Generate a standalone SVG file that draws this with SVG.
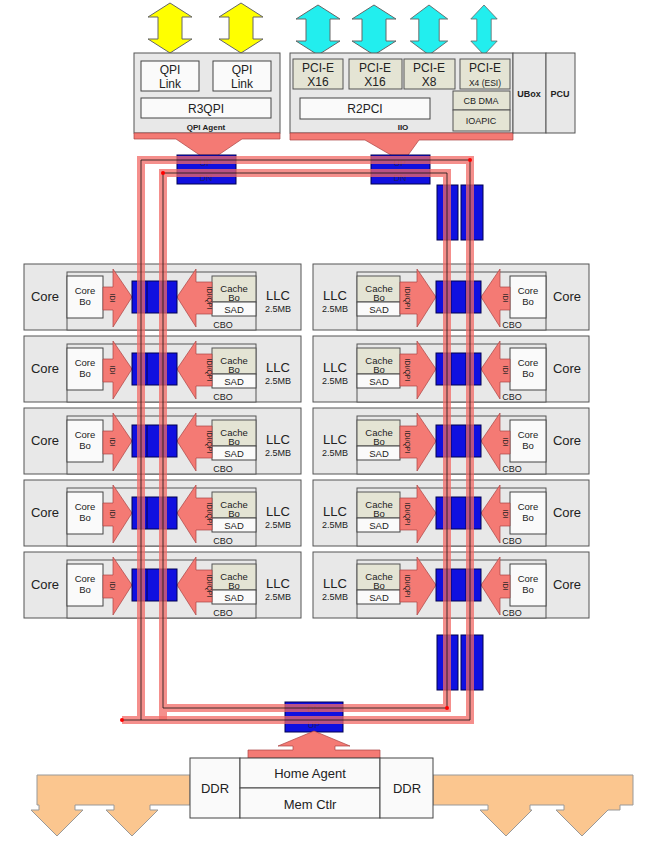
<svg xmlns="http://www.w3.org/2000/svg" width="669" height="842" viewBox="0 0 669 842">
<style>
text{font-family:"Liberation Sans",Arial,sans-serif;fill:#222}
.box{fill:#e8e8e8;stroke:#555;stroke-width:1}
.wb{fill:#fafafa;stroke:#444;stroke-width:1}
.gb{fill:#e4e4d4;stroke:#555;stroke-width:1}
.pk{fill:#f47a74;stroke:#a44;stroke-width:0.7}
.blu{fill:#1010e0;stroke:#000050;stroke-width:1}
.ring{fill:none;stroke:#f26a66;stroke-opacity:0.75;stroke-width:8}
.rl{fill:none;stroke:#111;stroke-width:0.8}
.ye{fill:#ffff00;stroke:#666;stroke-width:1}
.cy{fill:#22eeee;stroke:#666;stroke-width:1}
.or{fill:#fbc68f;stroke:#999;stroke-width:1}
</style>
<defs>
<path id="dbl" d="M0,-25 L22,-11 L12,-11 L12,11 L22,11 L0,25 L-22,11 L-12,11 L-12,-11 L-22,-11 Z"/>
<g id="rowL">
<rect class="box" x="24" y="264" width="277" height="66"/>
<rect class="box" x="67" y="272" width="189" height="58"/>
<rect class="wb" x="67" y="276" width="36" height="42"/>
<rect class="gb" x="212" y="276" width="44" height="26"/>
<rect class="wb" x="212" y="302" width="44" height="14"/>
<text x="45" y="301" font-size="13" text-anchor="middle">Core</text>
<text x="85" y="294" font-size="9.5" text-anchor="middle">Core</text>
<text x="85" y="305" font-size="9.5" text-anchor="middle">Bo</text>
<text x="234" y="292" font-size="9.5" text-anchor="middle">Cache</text>
<text x="234" y="301" font-size="9.5" text-anchor="middle">Bo</text>
<text x="234" y="313" font-size="9.5" text-anchor="middle">SAD</text>
<text x="278" y="300" font-size="13" text-anchor="middle">LLC</text>
<text x="278" y="312" font-size="9" text-anchor="middle">2.5MB</text>
<text x="223" y="328" font-size="9" text-anchor="middle">CBO</text>
<path class="pk" d="M103,287 H113 V269 L132,297 L113,327 V310 H103 Z"/>
<path class="pk" d="M212,282 H196 V269 L177,297 L196,327 V314 H212 Z"/>
<text transform="translate(110,298) rotate(90)" font-size="7" text-anchor="middle">IDI</text>
<text transform="translate(207,298) rotate(90)" font-size="7" text-anchor="middle">IDI/QPI</text>
<rect class="blu" x="132" y="281" width="45" height="32"/>
<line x1="147" y1="281" x2="147" y2="313" stroke="#000050"/>
<line x1="162" y1="281" x2="162" y2="313" stroke="#000050"/>
</g>
<g id="rowR">
<rect class="box" x="313" y="264" width="276" height="66"/>
<rect class="box" x="357" y="272" width="189" height="58"/>
<rect class="gb" x="357" y="276" width="43" height="26"/>
<rect class="wb" x="357" y="302" width="43" height="14"/>
<rect class="wb" x="510" y="276" width="36" height="42"/>
<text x="335" y="300" font-size="13" text-anchor="middle">LLC</text>
<text x="335" y="312" font-size="9" text-anchor="middle">2.5MB</text>
<text x="379" y="292" font-size="9.5" text-anchor="middle">Cache</text>
<text x="379" y="301" font-size="9.5" text-anchor="middle">Bo</text>
<text x="379" y="313" font-size="9.5" text-anchor="middle">SAD</text>
<text x="528" y="294" font-size="9.5" text-anchor="middle">Core</text>
<text x="528" y="305" font-size="9.5" text-anchor="middle">Bo</text>
<text x="567" y="301" font-size="13" text-anchor="middle">Core</text>
<text x="512" y="328" font-size="9" text-anchor="middle">CBO</text>
<path class="pk" d="M400,282 H417 V269 L436,297 L417,327 V314 H400 Z"/>
<path class="pk" d="M510,287 H500 V269 L481,297 L500,327 V310 H510 Z"/>
<text transform="translate(405,298) rotate(90)" font-size="7" text-anchor="middle">IDI/QPI</text>
<text transform="translate(503,298) rotate(90)" font-size="7" text-anchor="middle">IDI</text>
<rect class="blu" x="436" y="281" width="45" height="32"/>
<line x1="451" y1="281" x2="451" y2="313" stroke="#000050"/>
<line x1="466" y1="281" x2="466" y2="313" stroke="#000050"/>
</g>
</defs>

<g id="qpi-arrows">
<use href="#dbl" class="ye" transform="translate(170,28)"/>
<use href="#dbl" class="ye" transform="translate(241,28)"/>
</g>
<g id="pcie-arrows">
<use href="#dbl" class="cy" transform="translate(318,30)"/>
<use href="#dbl" class="cy" transform="translate(374,30)"/>
<use href="#dbl" class="cy" transform="translate(429,30) scale(0.85,1)"/>
<use href="#dbl" class="cy" transform="translate(484,30) scale(0.6,1)"/>
</g>

<g id="qpi-agent">
<rect class="box" x="134" y="53" width="146" height="80"/>
<rect class="wb" x="141" y="61" width="58" height="30"/>
<rect class="wb" x="213" y="61" width="58" height="30"/>
<rect class="wb" x="141" y="98" width="130" height="20"/>
<text x="170" y="74" font-size="12" text-anchor="middle">QPI</text>
<text x="170" y="88" font-size="12" text-anchor="middle">Link</text>
<text x="242" y="74" font-size="12" text-anchor="middle">QPI</text>
<text x="242" y="88" font-size="12" text-anchor="middle">Link</text>
<text x="206" y="113" font-size="12" text-anchor="middle">R3QPI</text>
<text x="206" y="130" font-size="8" font-weight="bold" text-anchor="middle">QPI Agent</text>
<path class="pk" d="M134,133 H280 V139 H242 L214,158 H204 L176,139 H134 Z"/>
</g>

<g id="iio">
<rect class="box" x="290" y="53" width="223" height="80"/>
<rect class="gb" x="293" y="59" width="50" height="30"/>
<rect class="gb" x="349" y="59" width="53" height="30"/>
<rect class="gb" x="404" y="59" width="51" height="30"/>
<rect class="gb" x="460" y="59" width="50" height="30"/>
<text x="318" y="72" font-size="12" text-anchor="middle">PCI-E</text>
<text x="318" y="86" font-size="12" text-anchor="middle">X16</text>
<text x="375" y="72" font-size="12" text-anchor="middle">PCI-E</text>
<text x="375" y="86" font-size="12" text-anchor="middle">X16</text>
<text x="429" y="72" font-size="12" text-anchor="middle">PCI-E</text>
<text x="429" y="86" font-size="12" text-anchor="middle">X8</text>
<text x="485" y="72" font-size="12" text-anchor="middle">PCI-E</text>
<text x="485" y="86" font-size="8.5" text-anchor="middle">X4 (ESI)</text>
<rect class="wb" x="300" y="98" width="130" height="21"/>
<text x="365" y="113" font-size="12" text-anchor="middle">R2PCI</text>
<rect class="gb" x="453" y="91" width="57" height="19"/>
<rect class="gb" x="453" y="110" width="57" height="21"/>
<text x="481" y="104" font-size="9" text-anchor="middle">CB DMA</text>
<text x="481" y="124" font-size="9" text-anchor="middle">IOAPIC</text>
<text x="403" y="130" font-size="8" font-weight="bold" text-anchor="middle">IIO</text>
<path class="pk" d="M290,133 H513 V140 H419 L406,158 H396 L365,140 H290 Z"/>
</g>
<g id="ubox"><rect class="box" x="513" y="53" width="33" height="80"/><text x="529" y="97" font-size="9" font-weight="bold" text-anchor="middle">UBox</text></g>
<g id="pcu"><rect class="box" x="546" y="53" width="29" height="80"/><text x="560" y="97" font-size="9" font-weight="bold" text-anchor="middle">PCU</text></g>

<g id="rows">
<use href="#rowL"/><use href="#rowR"/>
<use href="#rowL" y="72"/><use href="#rowR" y="72"/>
<use href="#rowL" y="144"/><use href="#rowR" y="144"/>
<use href="#rowL" y="216"/><use href="#rowR" y="216"/>
<use href="#rowL" y="288"/><use href="#rowR" y="288"/>
</g>

<g id="ring-stops">
<rect class="blu" x="177" y="155" width="59" height="29"/>
<rect class="blu" x="371" y="155" width="59" height="29"/>
<rect class="blu" x="437" y="185" width="21" height="55"/>
<rect class="blu" x="461" y="185" width="22" height="55"/>
<rect class="blu" x="437" y="635" width="21" height="55"/>
<rect class="blu" x="461" y="635" width="22" height="55"/>
<rect class="blu" x="285" y="702" width="58" height="30"/>
<g font-size="9" fill="#3a0050" text-anchor="middle" opacity="0.6">
<text x="206" y="166">UP</text><text x="206" y="181">DN</text>
<text x="400" y="166">UP</text><text x="400" y="181">DN</text>
<text x="314" y="712">DN</text><text x="314" y="728">UP</text>
</g>
</g>

<g id="connectors">
<path class="ring" d="M122,720 H470 V160 H141 V720"/>
<path class="ring" d="M163,720 V173 H447 V708 H163"/>
<path class="rl" d="M122,720 H470 V160 H141 V720"/>
<path class="rl" d="M163,708 V173 H447 V708 H163"/>
<circle cx="122" cy="720" r="2" fill="red"/>
<circle cx="470" cy="160" r="2" fill="red"/>
<circle cx="163" cy="173" r="2" fill="red"/>
<circle cx="447" cy="708" r="2" fill="red"/>
</g>

<g id="memory">
<path class="or" d="M37,775 H190 V805 H150 L150,810 H158 L132,836 L106,810 H114 V805 H75 V810 H83 L57,836 L31,810 H39 V805 H37 Z"/>
<path class="or" d="M433,775 H633 V805 H620 V810 H608 L582,836 L556,810 H564 V805 H530 V810 H532 L506,836 L480,810 H488 V805 H433 Z"/>
<path class="pk" d="M248,758 V750 H293 L293,746 H278 L314,731 L350,746 H335 V750 H380 V758 Z"/>
<rect class="wb" x="190" y="758" width="50" height="60"/>
<rect class="wb" x="240" y="758" width="140" height="30"/>
<rect class="wb" x="240" y="788" width="140" height="30"/>
<rect class="wb" x="380" y="758" width="53" height="60"/>
<text x="215" y="793" font-size="13" text-anchor="middle">DDR</text>
<text x="407" y="793" font-size="13" text-anchor="middle">DDR</text>
<text x="310" y="778" font-size="13" text-anchor="middle">Home Agent</text>
<text x="310" y="809" font-size="13" text-anchor="middle">Mem Ctlr</text>
</g>
</svg>
